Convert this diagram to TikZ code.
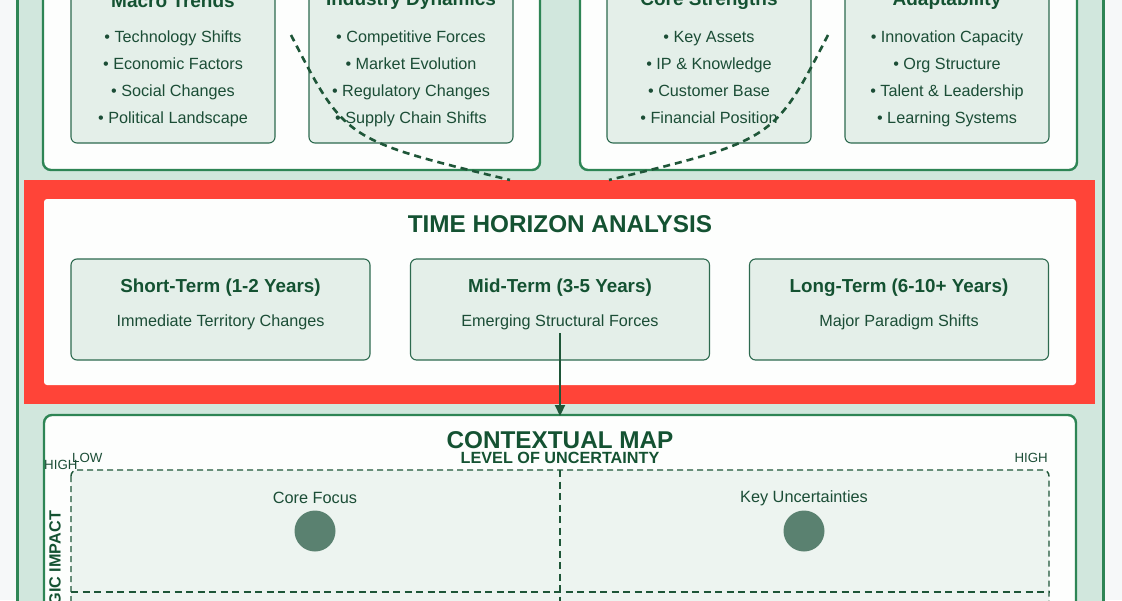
\documentclass[tikz,border=0pt]{standalone}
\usepackage{fontspec}
\setmainfont{Liberation Sans}
\usetikzlibrary{arrows.meta}
\definecolor{pagebg}{HTML}{F6F8F9}
\definecolor{framefill}{HTML}{D1E7DD}
\definecolor{framestroke}{HTML}{2E8555}
\definecolor{panelfill}{HTML}{FDFEFD}
\definecolor{boxfill}{HTML}{E4EFE9}
\definecolor{boxstroke}{HTML}{2D6A4F}
\definecolor{txt}{HTML}{1B4D36}
\definecolor{ttl}{HTML}{145232}
\definecolor{hot}{HTML}{FF4438}
\definecolor{quad}{HTML}{EDF4F0}
\definecolor{dot}{HTML}{5A8170}
\definecolor{dash}{HTML}{1E5638}
\tikzset{
  frame/.style={draw=framestroke, line width=3pt, fill=framefill},
  panel/.style={draw=framestroke, line width=2.4pt, fill=panelfill, rounded corners=8pt},
  ibox/.style={draw=boxstroke, line width=1.1pt, fill=boxfill, rounded corners=6pt},
  tbox/.style={ibox, minimum width=299pt, minimum height=101pt, inner sep=0pt},
  bul/.style={text=txt, font=\fontsize{16.2}{19}\selectfont, inner sep=0pt, anchor=base},
  btitle/.style={text=ttl, font=\fontsize{19}{22}\selectfont\bfseries, inner sep=0pt},
  ttitle/.style={text=ttl, font=\fontsize{18.8}{22}\selectfont\bfseries, inner sep=0pt},
  tsub/.style={text=txt, font=\fontsize{16.2}{19}\selectfont, inner sep=0pt},
  bigtitle/.style={text=ttl, font=\fontsize{24.3}{28}\selectfont\bfseries, inner sep=0pt},
  axlab/.style={text=ttl, font=\fontsize{16.2}{19}\selectfont\bfseries, inner sep=0pt},
  small/.style={text=txt, font=\fontsize{13.3}{16}\selectfont, inner sep=0pt},
  qlab/.style={text=txt, font=\fontsize{16.3}{19}\selectfont, inner sep=0pt},
  dotc/.style={circle, fill=dot, minimum size=41pt, inner sep=0pt},
  curve/.style={draw=dash, line width=2.6pt, dash pattern=on 7pt off 5pt},
  qline/.style={draw=dash, line width=2.4pt, dash pattern=on 7pt off 4.5pt},
}
\begin{document}
\begin{tikzpicture}[x=1pt,y=-1pt]
\useasboundingbox (0,0) rectangle (1122,600);
\clip (0,0) rectangle (1122,600);
\fill[pagebg] (0,0) rectangle (1122,600);
% outer frame
\draw[frame] (17,-40) rectangle (1103,650);
% top panels
\draw[panel] (43,-40) rectangle (540,170);
\draw[panel] (580,-40) rectangle (1077,170);
% inner boxes
\draw[ibox] (71,-40) rectangle (275,143);
\draw[ibox] (309,-40) rectangle (513,143);
\draw[ibox] (607,-40) rectangle (811,143);
\draw[ibox] (845,-40) rectangle (1049,143);
\node[btitle] (t1) at (173,1) {Macro Trends};
\node[btitle] (t2) at (411,1) {Industry Dynamics};
\node[btitle] (t3) at (709,1) {Core Strengths};
\node[btitle] (t4) at (947,1) {Adaptability};
\node[bul] (a1) at (173,42) {• Technology Shifts};
\node[bul] (a2) at (173,69) {• Economic Factors};
\node[bul] (a3) at (173,96) {• Social Changes};
\node[bul] (a4) at (173,123) {• Political Landscape};
\node[bul] (b1) at (411,42) {• Competitive Forces};
\node[bul] (b2) at (411,69) {• Market Evolution};
\node[bul] (b3) at (411,96) {• Regulatory Changes};
\node[bul] (b4) at (411,123) {• Supply Chain Shifts};
\node[bul] (c1) at (709,42) {• Key Assets};
\node[bul] (c2) at (709,69) {• IP \& Knowledge};
\node[bul] (c3) at (709,96) {• Customer Base};
\node[bul] (c4) at (709,123) {• Financial Position};
\node[bul] (d1) at (947,42) {• Innovation Capacity};
\node[bul] (d2) at (947,69) {• Org Structure};
\node[bul] (d3) at (947,96) {• Talent \& Leadership};
\node[bul] (d4) at (947,123) {• Learning Systems};
% time horizon
\fill[hot] (24,180) rectangle (1095,404);
\fill[panelfill, rounded corners=3pt] (44,199) rectangle (1076,385);
\node[bigtitle] (th) at (560,224) {TIME HORIZON ANALYSIS};
\node[tbox] (st) at (220.5,309.5) {};
\node[tbox] (mt) at (560,309.5) {};
\node[tbox] (lt) at (899,309.5) {};
\node[ttitle] (st1) at (220.5,288) {Short-Term (1-2 Years)};
\node[tsub] (st2) at (220.5,322) {Immediate Territory Changes};
\node[ttitle] (mt1) at (560,288) {Mid-Term (3-5 Years)};
\node[tsub] (mt2) at (560,322) {Emerging Structural Forces};
\node[ttitle] (lt1) at (899,288) {Long-Term (6-10+ Years)};
\node[tsub] (lt2) at (899,322) {Major Paradigm Shifts};
% dashed curves into the time horizon
\coordinate (cl0) at (291,35);
\coordinate (cl1) at (510,180);
\coordinate (cr0) at (828,35);
\coordinate (cr1) at (609,180);
\draw[curve] (cl0) .. controls (345,140) .. (cl1);
\draw[curve] (cr0) .. controls (774,140) .. (cr1);
% contextual map
\draw[panel] (44,415) rectangle (1076,660);
\coordinate (mapN) at (560,416);
\coordinate (arrS) at (560,333);
\draw[draw=dash, line width=2.2pt, -{Triangle[length=11pt,width=10pt]}] (arrS) -- (mapN);
\node[bigtitle] (cm) at (560,440) {CONTEXTUAL MAP};
\node[axlab] (lu) at (560,457.5) {LEVEL OF UNCERTAINTY};
\node[small, anchor=west] (low) at (72,458) {LOW};
\node[small, anchor=east] (high) at (1048,458) {HIGH};
\node[small, anchor=west] (vhigh) at (44,465) {HIGH};
\fill[quad, rounded corners=6pt] (71,470) rectangle (1049,660);
\draw[draw=dash, line width=1.4pt, dash pattern=on 6pt off 4pt, rounded corners=6pt] (71,470) rectangle (1049,660);
\coordinate (vtop) at (560,470);
\coordinate (vbot) at (560,650);
\coordinate (hl) at (71,592);
\coordinate (hr) at (1049,592);
\draw[qline] (vtop) -- (vbot);
\draw[qline] (hl) -- (hr);
\node[qlab] (q1) at (315,498) {Core Focus};
\node[dotc] (q1d) at (315,531) {};
\node[qlab] (q2) at (804,498) {Key Uncertainties};
\node[dotc] (q2d) at (804,531) {};
\node[axlab, rotate=90] (si) at (55,590) {STRATEGIC IMPACT};
\end{tikzpicture}
\end{document}
